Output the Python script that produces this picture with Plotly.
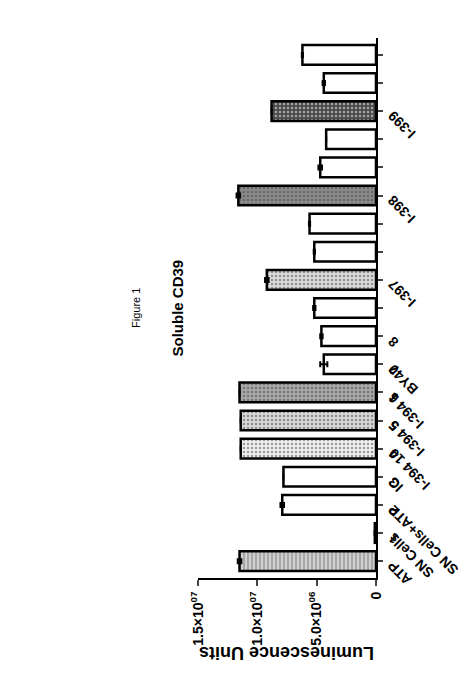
import plotly.graph_objects as go

categories = ["ATP", "SN Cells", "SN Cells+ATP", "IC", "I-394 10", "I-394 5", "I-394 1",
              "BY40", "1", "2", "I-397", "3", "4", "I-398", "5", "6", "I-399", "7", "8"]
values = [11.5e6, 0.1e6, 7.9e6, 7.8e6, 11.4e6, 11.4e6, 11.5e6,
          4.4e6, 4.6e6, 5.2e6, 9.2e6, 5.2e6, 5.6e6, 11.6e6, 4.7e6, 4.2e6, 8.8e6, 4.4e6, 6.2e6]
errors = [0.15e6, 0.02e6, 0.15e6, 0.0, 0.0, 0.0, 0.0,
          0.3e6, 0.1e6, 0.1e6, 0.15e6, 0.05e6, 0.05e6, 0.15e6, 0.15e6, 0.0, 0.0, 0.1e6, 0.05e6]
fills = ["#d0d0d0", "white", "white", "white", "#f0f0f0", "#d8d8d8", "#a8a8a8",
         "white", "white", "white", "#dcdcdc", "white", "white", "#8a8a8a", "white", "white", "#4a4a4a", "white", "white"]
patterns = ["|", "", "", "", ".", ".", ".", "", "", "", ".", "", "", ".", "", "", ".", "", ""]
tick_vals = [0, 5e6, 1e7, 1.5e7]
tick_text = ["<b>0</b>", "<b>5.0×10<sup>06</sup></b>", "<b>1.0×10<sup>07</sup></b>", "<b>1.5×10<sup>07</sup></b>"]

fig = go.Figure(go.Bar(
    y=categories, x=values, orientation="h", width=0.7,
    marker=dict(color=fills, line=dict(color="black", width=2.5),
                pattern=dict(shape=patterns, fgcolor="#555", size=4, solidity=0.3)),
    error_x=dict(type="data", array=errors, color="black", thickness=2, width=3),
))
font = "Liberation Sans, Arial, sans-serif"
pw = 474 - 190 - 106
annotations = [
    dict(text="<b>Luminescence Units</b>", x=0.5, y=-0.16, xref="paper", yref="paper",
         showarrow=False, textangle=180, font=dict(size=18)),
    dict(text="<b>Soluble CD39</b>", x=(158 - 190) / pw, y=0.5, xref="paper", yref="paper",
         showarrow=False, textangle=-90, font=dict(size=15)),
    dict(text="Figure 1", x=(120 - 190) / pw, y=0.5, xref="paper", yref="paper",
         showarrow=False, textangle=-90, font=dict(size=11)),
]
for c in categories:
    annotations.append(dict(text=f"<b>{c}</b>", x=1, y=c, xref="paper", yref="y",
                            showarrow=False, textangle=-135, xanchor="left", yanchor="top",
                            xshift=6, yshift=6, font=dict(size=14)))
fig.update_layout(
    width=474, height=686, plot_bgcolor="white", paper_bgcolor="white",
    margin=dict(l=190, r=106, t=30, b=116), showlegend=False,
    font=dict(family=font, color="black"),
    xaxis=dict(range=[1.5e7, 0], tickvals=tick_vals, ticktext=tick_text, tickangle=-90,
               showline=True, linecolor="black", linewidth=2, ticks="outside", ticklen=6,
               tickwidth=2, showgrid=False, zeroline=False,
               tickfont=dict(size=14, family=font)),
    yaxis=dict(side="right", showline=True, linecolor="black", linewidth=2, ticks="outside",
               ticklen=5, tickwidth=2, showgrid=False, showticklabels=False,
               range=[-0.6, 18.6]),
    annotations=annotations,
)
fig.write_html("out.html")
